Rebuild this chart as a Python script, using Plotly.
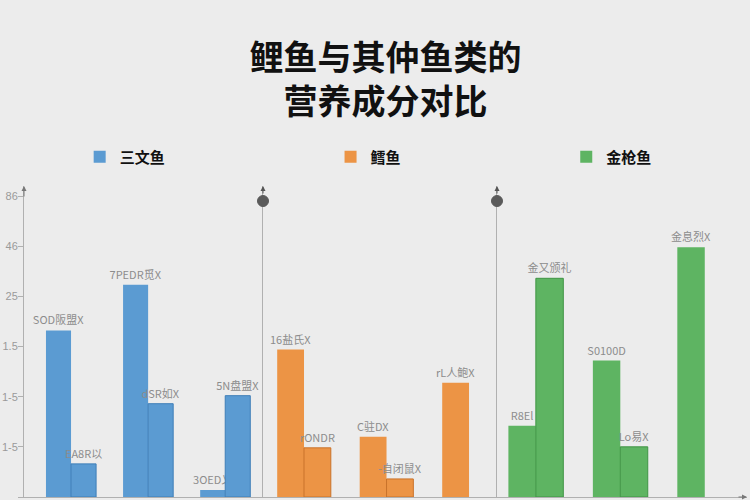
import plotly.graph_objects as go
from plotly.subplots import make_subplots

# three fish, each with three nutrient groups and two bars per group
fish = ['三文鱼', '鳕鱼', '金枪鱼']
colors = ['#5b9bd2', '#ec9445', '#5eb462']
edge_colors = ['#3f7fb8', '#c9722a', '#3f9444']
groups = ['蛋白质', '脂肪', 'Omega-3']

vals_a = [[3.32, 4.23, 0.14],
          [2.94, 1.20, 2.28],
          [1.42, 2.72, 4.98]]
vals_b = [[0.66, 1.86, 2.02],
          [0.98, 0.36, None],
          [4.36, 1.00, None]]

text_a = [['SOD阪盟X', '7PEDR觅X', '3OED乂'],
          ['16盐氏X', 'C驻DX', 'rL人鲍X'],
          ['R8El', 'S0100D', '金息烈X']]
text_b = [['ΕΑ8R以', 'dSR如X', '5N盘盟X'],
          ['rONDR', '-自闭鼠X', ''],
          ['金又颁礼', 'Lo易X', '']]

ytick_vals = [0, 1, 2, 3, 4, 5, 6]
ytick_text = ['0', '1-5', '1-5', '1.5', '25', '46', '86']

title_text = '鲤鱼与其仲鱼类的<br>营养成分对比'

font_cjk = 'Noto Sans CJK SC'
bg = '#ececec'
axis_col = '#b0b0b0'

fig = make_subplots(rows=1, cols=3, shared_yaxes=True, horizontal_spacing=0,
                    column_widths=[239, 234, 250])

for i in range(3):
    leg = 'legend' if i == 0 else f'legend{i + 1}'
    fig.add_trace(go.Bar(x=groups, y=vals_a[i], name=fish[i], legend=leg,
                         marker=dict(color=colors[i], line=dict(color=colors[i], width=0)),
                         text=text_a[i], textposition='outside', cliponaxis=False,
                         constraintext='none',
                         textfont=dict(color='#8c8c8c', size=11, family=font_cjk)),
                  row=1, col=i + 1)
    fig.add_trace(go.Bar(x=groups, y=vals_b[i], name=fish[i], legend=leg, showlegend=False,
                         marker=dict(color=colors[i], line=dict(color=edge_colors[i], width=1)),
                         text=text_b[i], textposition='outside', cliponaxis=False,
                         constraintext='none',
                         textfont=dict(color='#8c8c8c', size=11, family=font_cjk)),
                  row=1, col=i + 1)

xranges = [[-0.61, 2.49], [-0.497, 2.339], [-0.46, 2.50]]
for i in range(3):
    fig.update_xaxes(range=xranges[i], showticklabels=False, showgrid=False, zeroline=False,
                     showline=True, linecolor=axis_col, linewidth=1, ticks='',
                     automargin=False, row=1, col=i + 1)

fig.update_yaxes(range=[0, 6.2], showgrid=False, zeroline=False, showline=True,
                 linecolor=axis_col, linewidth=1, automargin=False)
fig.update_yaxes(tickvals=ytick_vals, ticktext=ytick_text, ticks='outside', ticklen=5,
                 tickcolor=axis_col, ticklabelstandoff=-2,
                 tickfont=dict(color='#9a9a9a', size=11, family='Liberation Sans'),
                 row=1, col=1)

legend_style = dict(orientation='h', yref='container', yanchor='middle', y=1 - 157 / 500,
                    xanchor='left', bgcolor='rgba(0,0,0,0)',
                    font=dict(family=font_cjk, size=15, color='#111111', weight='bold'))
fig.update_layout(
    legend=dict(x=0.077, **legend_style),
    legend2=dict(x=0.424, **legend_style),
    legend3=dict(x=0.750, **legend_style),
)

# axis arrows and divider knobs
div_x = [239 / 723, 473 / 723]
shapes = []
annotations = [
    dict(x=0, y=1, xref='paper', yref='paper', ax=0, ay=12, text='', showarrow=True,
         arrowhead=2, arrowsize=1, arrowwidth=1, arrowcolor='#777777'),
    dict(x=1, y=0, xref='paper', yref='paper', ax=-10, ay=0, text='', showarrow=True,
         arrowhead=2, arrowsize=1, arrowwidth=1, arrowcolor='#777777'),
]
for dx in div_x:
    shapes.append(dict(type='circle', xref='paper', yref='paper', xsizemode='pixel',
                       ysizemode='pixel', xanchor=dx, yanchor=(497 - 201) / 311,
                       x0=-5.5, x1=5.5, y0=-5.5, y1=5.5,
                       fillcolor='#5a5a5a', line=dict(color='#5a5a5a', width=1)))
    annotations.append(dict(x=dx, y=1, xref='paper', yref='paper', ax=0, ay=9, text='',
                            showarrow=True, arrowhead=2, arrowsize=1, arrowwidth=1,
                            arrowcolor='#555555'))

fig.update_layout(
    title=dict(text=title_text, x=0.5, xref='paper', xanchor='center', y=1 - 70 / 500,
               yanchor='middle', font=dict(family=font_cjk, size=34, color='#111111', weight='bold')),
    barmode='group', bargap=0.35, bargroupgap=0,
    width=750, height=500, margin=dict(l=24, r=3, t=186, b=3, autoexpand=False),
    paper_bgcolor=bg, plot_bgcolor=bg,
    shapes=shapes, annotations=annotations,
)

# drop the page's default body margin so the figure sits at the window corner
fig.write_html('out.html', config={'displayModeBar': False},
               post_script="document.body.style.margin='0';")
